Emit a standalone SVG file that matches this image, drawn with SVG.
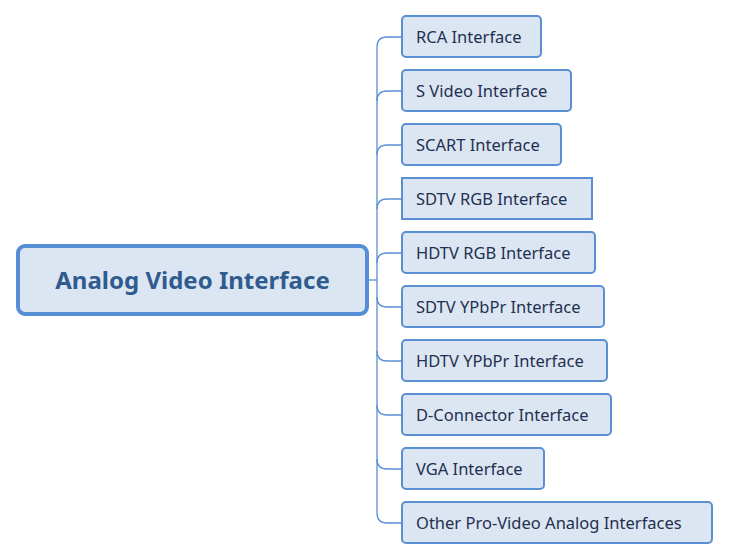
<svg xmlns="http://www.w3.org/2000/svg" width="729" height="560" viewBox="0 0 729 560">
<style>
.c{fill:#dce6f2;stroke:#5b8fd4;stroke-width:2}
.t{font-family:"Noto Sans","Open Sans",sans-serif;font-size:16.5px;fill:#1f3050}
.l{fill:none;stroke:#5b8fd4;stroke-width:1.3}
</style>
<rect width="729" height="560" fill="#fff"/>
<g id="connectors" class="l">
<path d="M367,280 H377"/>
<path d="M402,37 H387 Q377,37 377,47 V513 Q377,523 387,523 H402"/>
<path d="M377,101 Q377,91 387,91 H402"/>
<path d="M377,155 Q377,145 387,145 H402"/>
<path d="M377,209 Q377,199 387,199 H402"/>
<path d="M377,263 Q377,253 387,253 H402"/>
<path d="M377,297 Q377,307 387,307 H402"/>
<path d="M377,351 Q377,361 387,361 H402"/>
<path d="M377,405 Q377,415 387,415 H402"/>
<path d="M377,459 Q377,469 387,469 H402"/>
</g>
<g id="root"><rect x="18" y="246" width="349" height="68" rx="7" fill="#dce6f2" stroke="#558ed5" stroke-width="4"/>
<text x="192.5" y="289" text-anchor="middle" font-family="'Noto Sans','Open Sans',sans-serif" font-size="24" font-weight="bold" fill="#305b8f">Analog Video Interface</text></g>
<g id="n1"><rect class="c" x="402" y="16" width="139" height="41" rx="4"/><text class="t" x="416" y="43">RCA Interface</text></g>
<g id="n2"><rect class="c" x="402" y="70" width="169" height="41" rx="4"/><text class="t" x="416" y="97">S Video Interface</text></g>
<g id="n3"><rect class="c" x="402" y="124" width="159" height="41" rx="4"/><text class="t" x="416" y="151">SCART Interface</text></g>
<g id="n4"><rect class="c" x="402" y="178" width="190" height="41" rx="0"/><text class="t" x="416" y="205">SDTV RGB Interface</text></g>
<g id="n5"><rect class="c" x="402" y="232" width="193" height="41" rx="4"/><text class="t" x="416" y="259">HDTV RGB Interface</text></g>
<g id="n6"><rect class="c" x="402" y="286" width="202" height="41" rx="4"/><text class="t" x="416" y="313">SDTV YPbPr Interface</text></g>
<g id="n7"><rect class="c" x="402" y="340" width="205" height="41" rx="4"/><text class="t" x="416" y="367">HDTV YPbPr Interface</text></g>
<g id="n8"><rect class="c" x="402" y="394" width="209" height="41" rx="4"/><text class="t" x="416" y="421">D-Connector Interface</text></g>
<g id="n9"><rect class="c" x="402" y="448" width="142" height="41" rx="4"/><text class="t" x="416" y="475">VGA Interface</text></g>
<g id="n10"><rect class="c" x="402" y="502" width="310" height="41" rx="4"/><text class="t" x="416" y="529">Other Pro-Video Analog Interfaces</text></g>
</svg>
